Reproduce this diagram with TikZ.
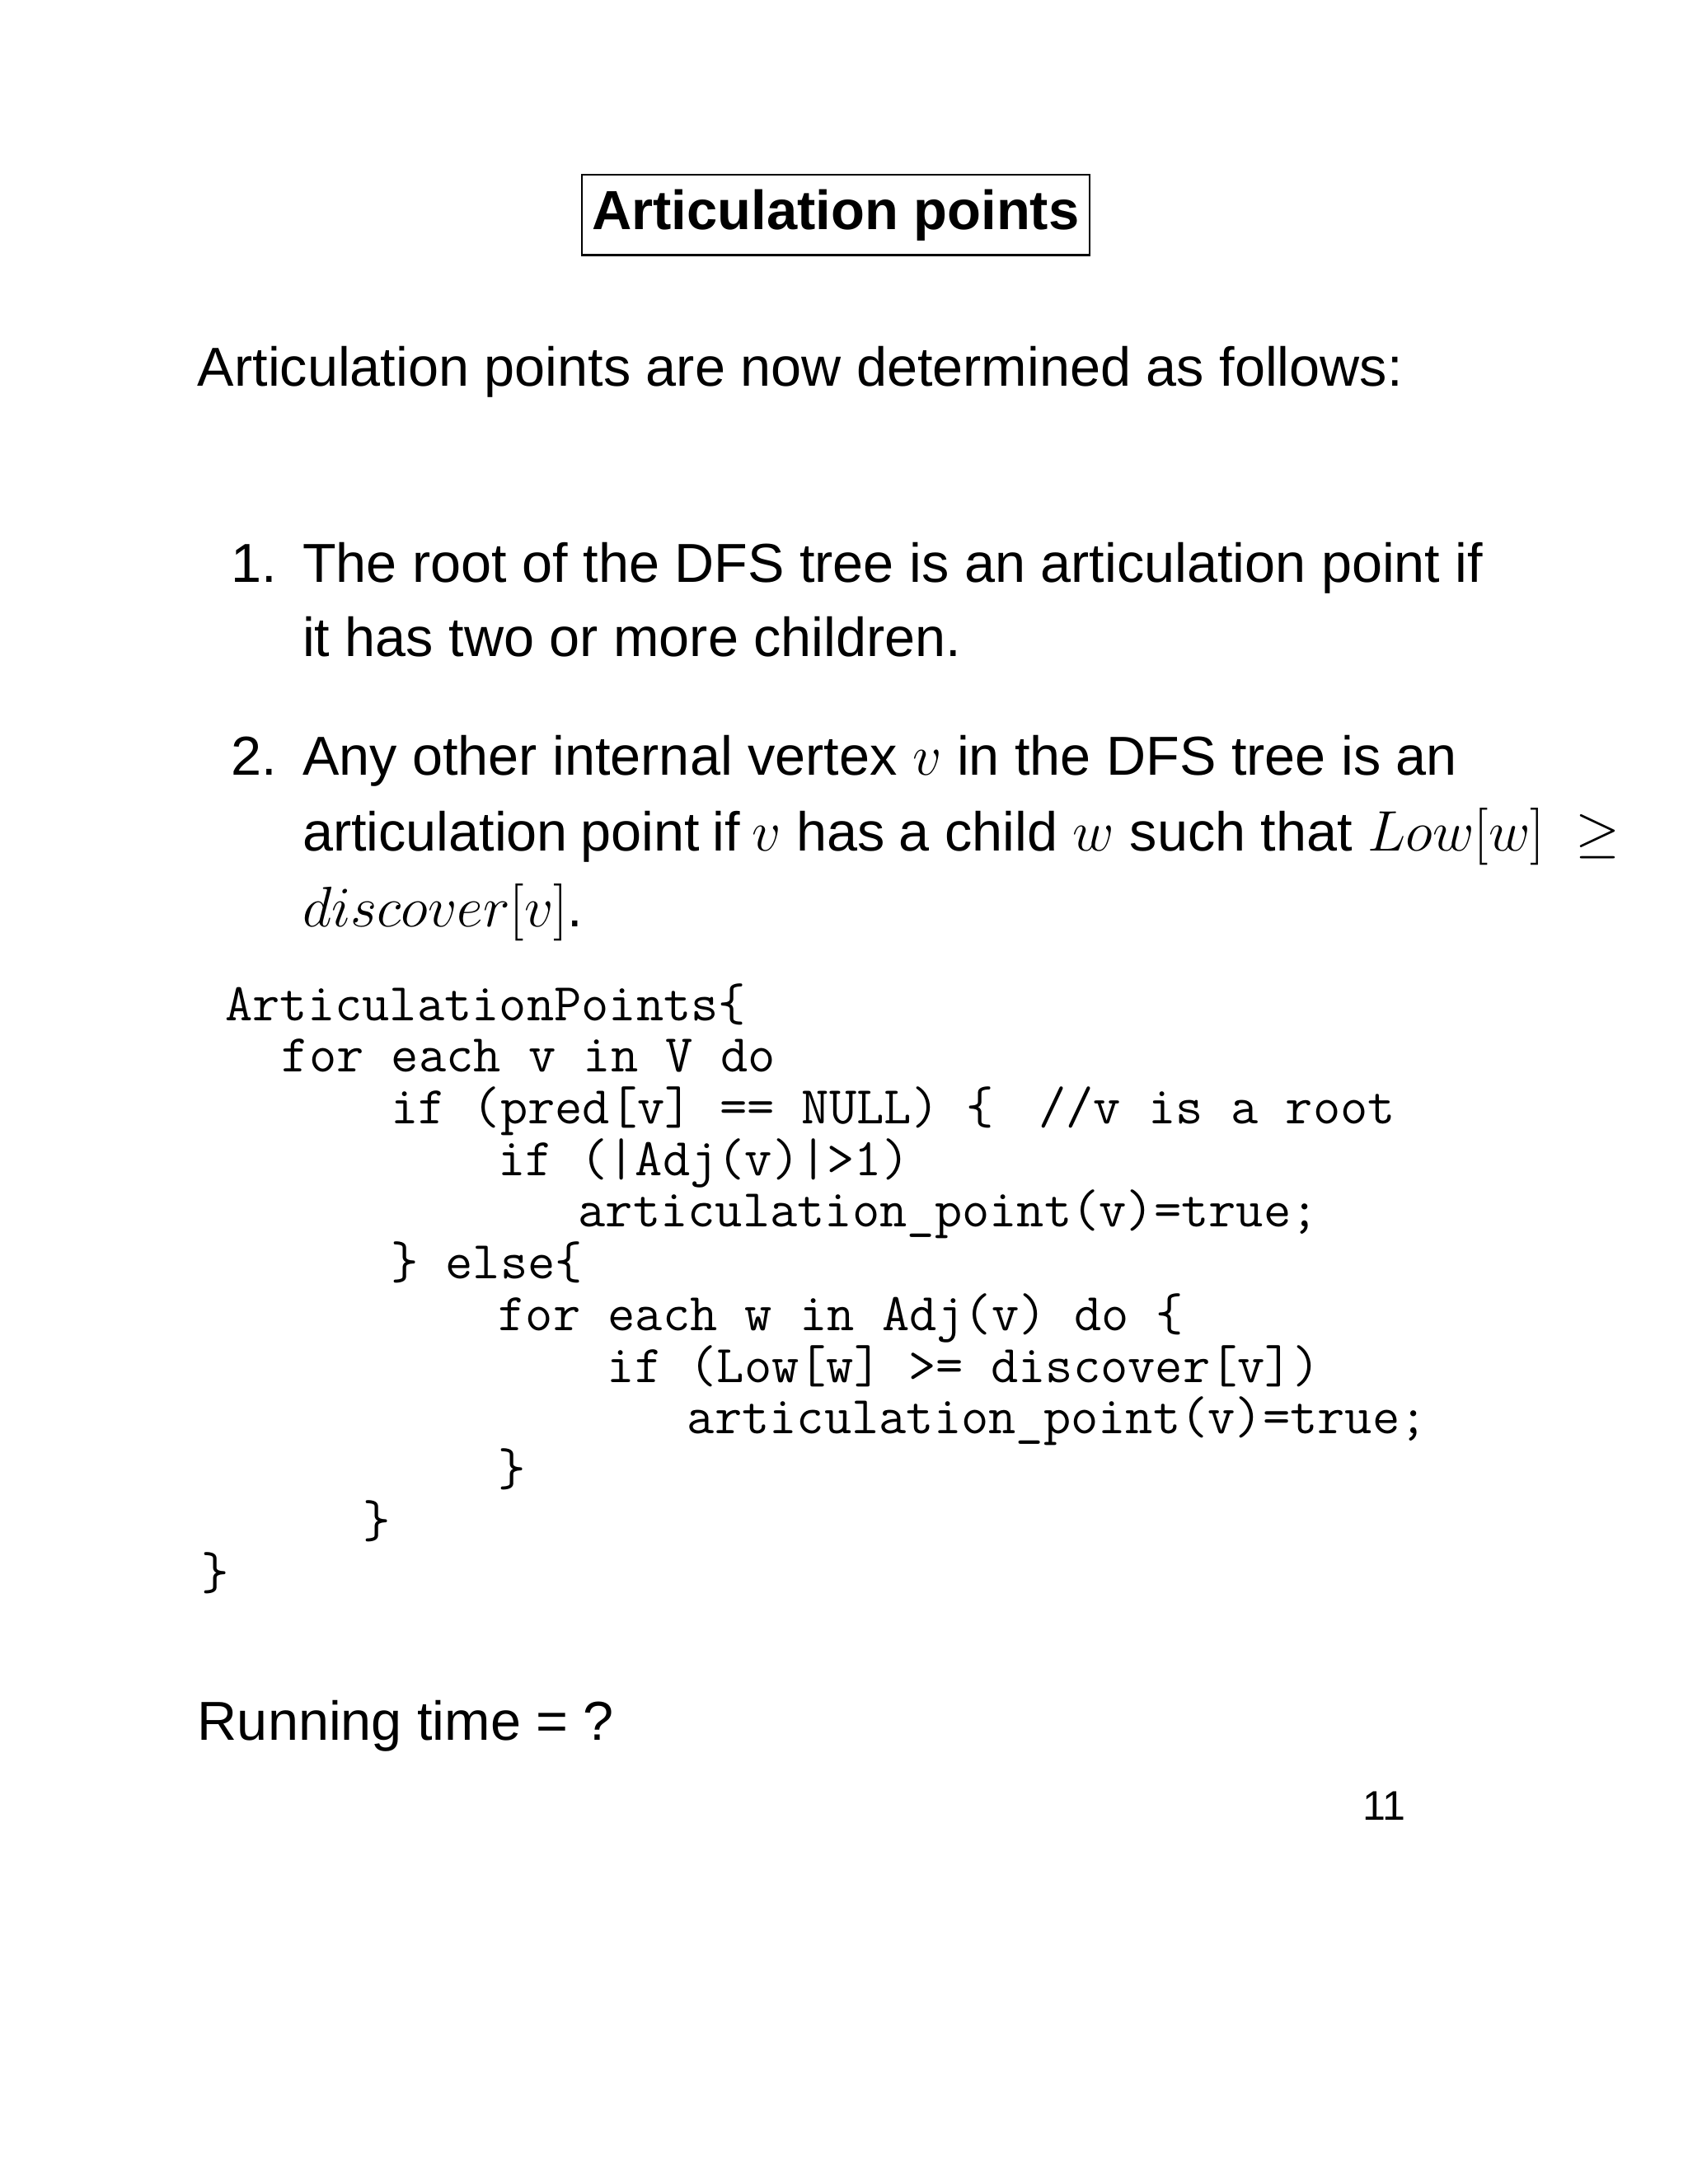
\documentclass[tikz,border=0pt]{standalone}
\usepackage{fontspec}
\setmainfont{Liberation Sans}
\begin{document}
\begin{tikzpicture}[x=1pt,y=-1pt,
  txt/.style={anchor=base west,inner sep=0pt,font=\fontsize{19.9}{24}\selectfont},
  code/.style={anchor=base west,inner sep=0pt,font=\fontsize{19.3}{22}\ttfamily}]
\useasboundingbox (0,0) rectangle (612,792);
\node[draw,line width=0.6pt,inner sep=0pt,minimum width=184pt,minimum height=29pt,font=\fontsize{20}{24}\selectfont\bfseries] (title) at (303,78) {Articulation points};
\node[txt] (intro) at (71.5,140) {Articulation points are now determined as follows:};
\node[txt] (n1) at (83.5,211) {1.};
\node[txt] (l1a) at (109.5,211) {The root of the DFS tree is an articulation point if};
\node[txt] (l1b) at (109.5,238) {it has two or more children.};
\node[txt] (n2) at (83.5,281) {2.};
\node[txt] (l2a) at (109.5,281) {Any other internal vertex $v$ in the DFS tree is an};
\node[txt] (l2b) at (109.5,308.5) {articulation\kern-.8pt\ point\kern-.8pt\ if\kern-1.2pt\ $v$ has\kern-.5pt\ a child $w$ such that $Low[w]\ \geq$};
\node[txt] (l2c) at (109.5,336) {$discover[v]$.};
\node[code] (c1) at (81.5,370) {ArticulationPoints\{};
\node[code] (c2) at (102,388.75) {for each v in V do};
\node[code] (c3) at (141.5,407.5) {if (pred[v] == NULL) \{};
\node[code] (c3b) at (376.5,407.5) {//v is a root};
\node[code] (c4) at (180.5,426.25) {if (|Adj(v)|>1)};
\node[code] (c5) at (209.5,445) {articulation\_point(v)=true;};
\node[code] (c6) at (141.5,463.75) {\} else\{};
\node[code] (c7) at (180.5,482.5) {for each w in Adj(v) do \{};
\node[code] (c8) at (220,501.25) {if (Low[w] >= discover[v])};
\node[code] (c9) at (249,520) {articulation\_point(v)=true;};
\node[code] (c10) at (180.5,538.75) {\}};
\node[code] (c11) at (131.5,557.5) {\}};
\node[code] (c12) at (73,576.25) {\}};
\node[txt] (rt) at (71.5,631) {Running time = ?};
\node[anchor=base west,inner sep=0pt,font=\fontsize{15}{18}\selectfont] (pg) at (494,660) {11};
\end{tikzpicture}
\end{document}
